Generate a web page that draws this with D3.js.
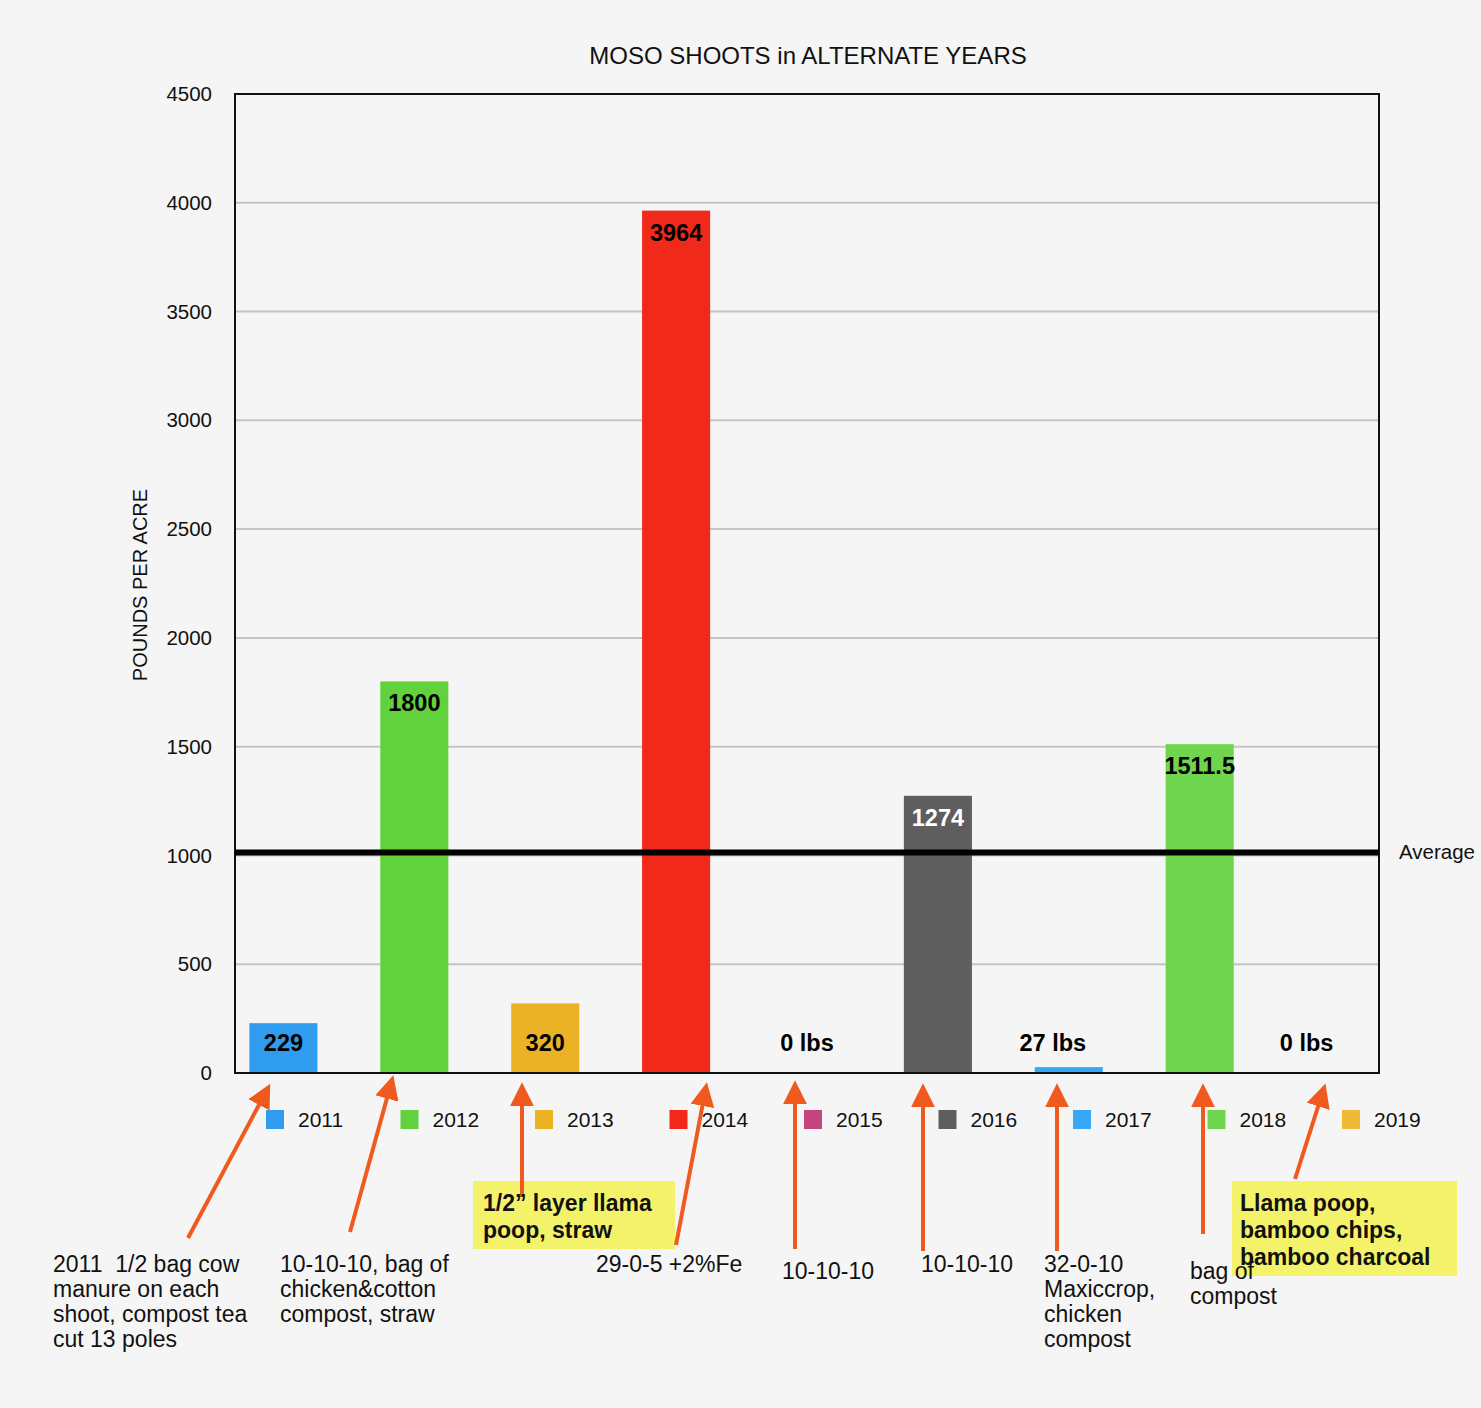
<!DOCTYPE html>
<html>
<head>
<meta charset="UTF-8">
<title>MOSO SHOOTS</title>
<script src="https://cdn.jsdelivr.net/npm/d3@7"></script>
<style>
  body{margin:0;background:#f5f5f5;}
  text{font-family:"Liberation Sans",Arial,Helvetica,sans-serif;white-space:pre;}
</style>
</head>
<body>
<div id="chart"></div>
<script>
var years=['2011','2012','2013','2014','2015','2016','2017','2018','2019'];
var pounds=[229,1800,320,3964,0,1274,27,1511.5,0];
var labels=['229','1800','320','3964','0 lbs','1274','27 lbs','1511.5','0 lbs'];
var colors=['#2f9cf0','#62d23c','#ebb226','#f0291a','#c4447e','#5e5e5e','#36a8f5','#6fd54e','#efba38'];
var yTicks=[0,500,1000,1500,2000,2500,3000,3500,4000,4500];
var average=d3.mean(pounds);
// label nudges for the small values
var labelDx=[0,0,0,0,0,0,-16,0,-24];
// notes under each year: [text lines, text x, first baseline, arrow tail x, tail y, head x, head y, boxed]
var notes=[
  [['2011  1/2 bag cow','manure on each','shoot, compost tea','cut 13 poles'],53,1272,188,1238,268,1088,false],
  [['10-10-10, bag of','chicken&cotton','compost, straw'],280,1272,350,1232,392,1080,false],
  [['1/2\u201d layer llama','poop, straw'],483,1211,522,1197,522,1087,true],
  [['29-0-5 +2%Fe'],596,1272,676,1245,706,1087,false],
  [['10-10-10'],782,1279,795,1249,795,1085,false],
  [['10-10-10'],921,1272,923,1251,923,1088,false],
  [['32-0-10','Maxiccrop,','chicken','compost'],1044,1272,1057,1251,1057,1088,false],
  [['bag of','compost'],1190,1279,1203,1234,1203,1088,false],
  [['Llama poop,','bamboo chips,','bamboo charcoal'],1240,1211,1295,1179,1324,1088,true]
];
var boxes=[[473,1181,202,68],[1232,1181,225,95]];

var W=1481,H=1408;
var svg=d3.select('#chart').append('svg').attr('width',W).attr('height',H);
svg.append('rect').attr('width',W).attr('height',H).attr('fill','#f5f5f5');

var pLeft=235,pRight=1379,pTop=94,pBottom=1073;
var x=d3.scaleBand().domain(years).range([pLeft,pRight]).paddingInner(0.48).paddingOuter(0.11);
var y=d3.scaleLinear().domain([0,4500]).range([pBottom,pTop]);

// title
svg.append('text').attr('x',808).attr('y',64).attr('text-anchor','middle')
  .style('font-size','24px').attr('fill','#111').text('MOSO SHOOTS in ALTERNATE YEARS');

// grid
svg.append('g').selectAll('line').data(yTicks.slice(1,-1)).enter().append('line')
  .attr('x1',pLeft).attr('x2',pRight).attr('y1',function(d){return y(d);}).attr('y2',function(d){return y(d);})
  .attr('stroke','#c4c4c4').attr('stroke-width',2);

// y axis
var gy=svg.append('g').attr('transform','translate('+pLeft+',0)')
  .call(d3.axisLeft(y).tickValues(yTicks).tickFormat(d3.format('d')).tickSize(0).tickPadding(23));
gy.select('.domain').remove();
gy.selectAll('text').style('font-size','20.5px').attr('fill','#111')
  .style('font-family','"Liberation Sans",Arial,sans-serif');

svg.append('text').attr('transform','translate(147,585) rotate(-90)').attr('text-anchor','middle')
  .style('font-size','20px').attr('fill','#111').text('POUNDS PER ACRE');

// bars
svg.append('g').selectAll('rect').data(pounds).enter().append('rect')
  .attr('x',function(d,i){return x(years[i]);})
  .attr('y',function(d){return y(d);})
  .attr('width',x.bandwidth())
  .attr('height',function(d){return pBottom-y(d);})
  .attr('fill',function(d,i){return colors[i];});

// value labels
svg.append('g').selectAll('text').data(pounds).enter().append('text')
  .attr('x',function(d,i){return x(years[i])+x.bandwidth()/2+labelDx[i];})
  .attr('y',function(d){return d<400?pBottom-22:y(d)+30;})
  .attr('text-anchor','middle').style('font-size','23.5px').style('font-weight','bold')
  .attr('fill',function(d,i){return years[i]=='2016'?'#fff':'#000';})
  .text(function(d,i){return labels[i];});

// frame
svg.append('rect').attr('x',pLeft).attr('y',pTop).attr('width',pRight-pLeft).attr('height',pBottom-pTop)
  .attr('fill','none').attr('stroke','#111').attr('stroke-width',2);

// average line
svg.append('line').attr('x1',pLeft).attr('x2',pRight).attr('y1',y(average)).attr('y2',y(average))
  .attr('stroke','#000').attr('stroke-width',6);
svg.append('text').attr('x',1399).attr('y',y(average)+7).style('font-size','20.5px').attr('fill','#111').text('Average');

// legend
var leg=svg.append('g').selectAll('g').data(years).enter().append('g')
  .attr('transform',function(d,i){return 'translate('+(266+134.5*i)+',1110)';});
leg.append('rect').attr('width',18).attr('height',19).attr('fill',function(d,i){return colors[i];});
leg.append('text').attr('x',32).attr('y',17).style('font-size','21px').attr('fill','#111').text(function(d){return d;});

// yellow boxes
svg.append('g').selectAll('rect').data(boxes).enter().append('rect')
  .attr('x',function(d){return d[0];}).attr('y',function(d){return d[1];})
  .attr('width',function(d){return d[2];}).attr('height',function(d){return d[3];})
  .attr('fill','#f4f26a');

// arrows
svg.append('defs').append('marker').attr('id','head').attr('viewBox','0 0 10 10')
  .attr('refX',8).attr('refY',5).attr('markerWidth',6).attr('markerHeight',6)
  .attr('markerUnits','strokeWidth').attr('orient','auto')
  .append('path').attr('d','M0,0 L10,5 L0,10 z').attr('fill','#f05a1e');
svg.append('g').selectAll('line').data(notes).enter().append('line')
  .attr('x1',function(d){return d[3];}).attr('y1',function(d){return d[4];})
  .attr('x2',function(d){return d[5];}).attr('y2',function(d){return d[6];})
  .attr('stroke','#f05a1e').attr('stroke-width',4).attr('marker-end','url(#head)');

// note text
var nt=svg.append('g').selectAll('text').data(notes).enter().append('text')
  .attr('x',function(d){return d[1];}).attr('y',function(d){return d[2];})
  .style('font-size','23px').style('font-weight',function(d){return d[7]?'bold':'normal';})
  .attr('fill','#111');
nt.selectAll('tspan').data(function(d){return d[0].map(function(t){return [t,d[1],d[7]];});}).enter().append('tspan')
  .attr('x',function(d){return d[1];}).attr('dy',function(d,i){return i==0?0:(d[2]?27:25);})
  .text(function(d){return d[0];});
</script>
</body>
</html>
